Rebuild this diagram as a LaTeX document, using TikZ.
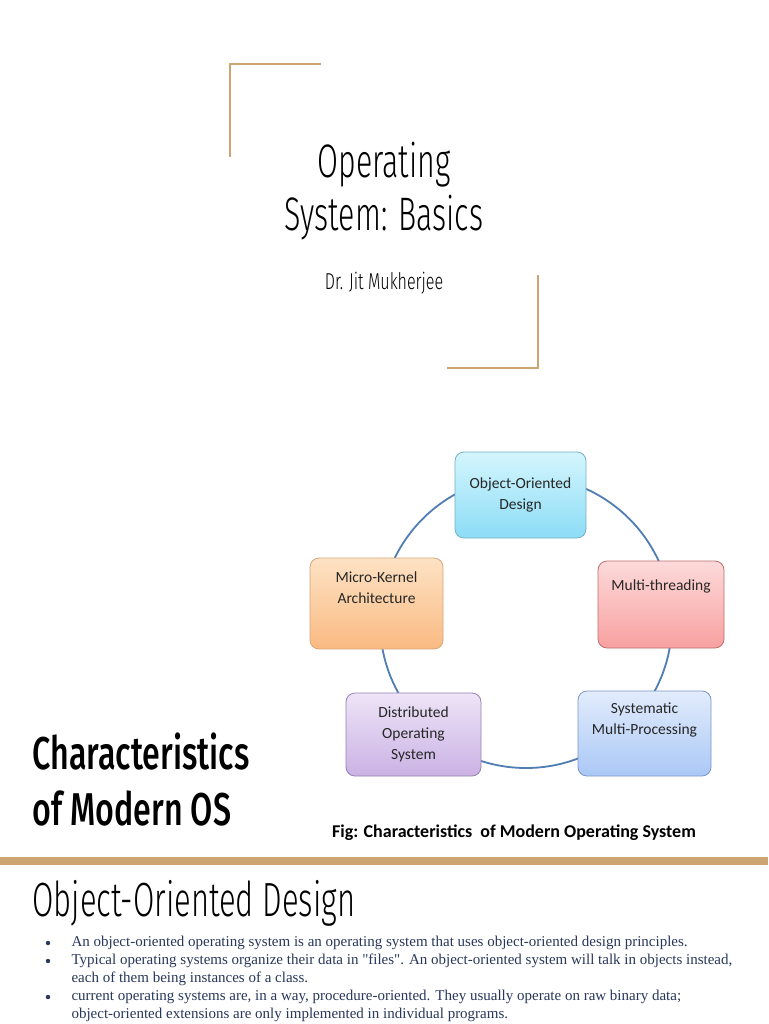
\documentclass[tikz,border=0pt]{standalone}
\usepackage{fontspec}
\setmainfont{Liberation Serif}
\newfontfamily\cond[FakeStretch=0.7]{Fira Sans Light}
\newfontfamily\condt[FakeStretch=0.645]{Fira Sans Light}
\newfontfamily\condb[FakeStretch=0.7]{Fira Sans Medium}
\newfontfamily\cali{Carlito}
\newfontfamily\body{Liberation Serif}
\definecolor{tan}{RGB}{205,165,115}
\definecolor{navy}{RGB}{40,55,90}
\definecolor{ring}{RGB}{80,125,180}
\tikzset{
 box/.style={rounded corners=9pt,minimum width=#1,align=center,font=\cali\fontsize{15.5}{21}\selectfont,text=black!85,line width=0.8pt},
 tl/.style={anchor=west,font=\body\fontsize{15}{16}\selectfont,text=navy},
}
\begin{document}
\begin{tikzpicture}[x=1pt,y=-1pt]
\useasboundingbox (0,0) rectangle (768,1024);
\fill[white] (0,0) rectangle (768,1024);
\draw[tan,line width=1.2pt] (230,157)--(230,64)--(321,64);
\draw[tan,line width=1.2pt] (538,275)--(538,368)--(447,368);
\node[font=\condt\fontsize{47}{52}\selectfont,align=center] (t1) at (384,165) {Operating};
\node[font=\condt\fontsize{47}{52}\selectfont,align=center] (t2) at (384,218) {System: Basics};
\node[font=\cond\fontsize{23}{26}\selectfont] (au) at (384,283) {Dr. Jit Mukherjee};
\draw[ring,line width=1.8pt] (526,622) circle (146);
\node[box=131pt,minimum height=86pt,draw={rgb,255:red,120;green,175;blue,200},top color={rgb,255:red,212;green,246;blue,253},bottom color={rgb,255:red,140;green,220;blue,246}] (ood) at (520.5,495) {Object-Oriented\\Design};
\node[box=133pt,minimum height=91pt,draw={rgb,255:red,215;green,165;blue,120},top color={rgb,255:red,253;green,226;blue,196},bottom color={rgb,255:red,250;green,186;blue,130}] (mk) at (376.5,603.5) {Micro-Kernel\\Architecture\\[10pt]};
\node[box=126pt,minimum height=87pt,draw={rgb,255:red,190;green,110;blue,110},top color={rgb,255:red,253;green,218;blue,218},bottom color={rgb,255:red,248;green,160;blue,160}] (mt) at (661,604.5) {Multi-threading\\[18pt]};
\node[box=135pt,minimum height=83pt,draw={rgb,255:red,150;green,130;blue,180},top color={rgb,255:red,238;green,228;blue,247},bottom color={rgb,255:red,202;green,178;blue,228}] (dos) at (413.5,734.5) {Distributed\\Operating\\System};
\node[box=133pt,minimum height=85pt,draw={rgb,255:red,120;green,150;blue,200},top color={rgb,255:red,226;green,236;blue,252},bottom color={rgb,255:red,170;green,200;blue,246}] (smp) at (644.5,733.5) {Systematic\\Multi-Processing\\[8pt]};
\node[font=\cali\bfseries\fontsize{18}{20}\selectfont] (cap) at (514,833) {Fig: Characteristics\ \ of\ Modern\ Operating\ System};
\node[anchor=west,font=\condb\fontsize{46}{50}\selectfont] (c1) at (29,752) {Characteristics};
\node[anchor=west,font=\condb\fontsize{46}{50}\selectfont] (c2) at (29,808) {of Modern OS};
\fill[tan] (0,857) rectangle (768,865);
\node[anchor=west,font=\condt\fontsize{48}{52}\selectfont] (h) at (29,903) {Object-Oriented Design};
\foreach \y in {943,961,997}{\fill[navy] (48,\y) circle (2.2);}
\node[tl] (b1) at (68,943) {An object-oriented operating system is an operating system that uses object-oriented design principles.};
\node[tl] (b2) at (68,961) {Typical operating systems organize their data in "files". An object-oriented system will talk in objects instead,};
\node[tl] (b3) at (68,979) {each of them being instances of a class.};
\node[tl] (b4) at (68,997) {current operating systems are, in a way, procedure-oriented. They usually operate on raw binary data;};
\node[tl] (b5) at (68,1015) {object-oriented extensions are only implemented in individual programs.};
\end{tikzpicture}
\end{document}
